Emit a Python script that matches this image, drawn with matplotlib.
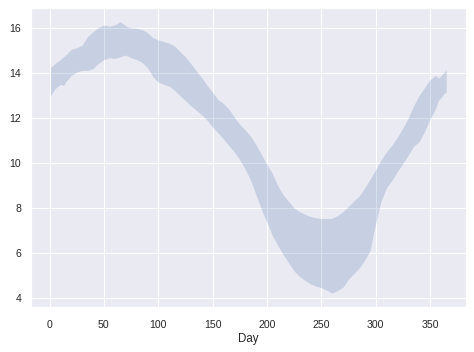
import matplotlib
matplotlib.use('Agg')
import matplotlib.pyplot as plt
import seaborn as sns

# Day of year (sample points)
days = [1, 5, 10, 13, 15, 20, 25, 30, 35, 40, 45, 50, 55, 60, 65, 70, 75, 80,
        85, 90, 95, 100, 105, 110, 115, 120, 125, 130, 135, 140, 145, 150, 155,
        160, 165, 170, 175, 180, 185, 190, 195, 200, 205, 210, 215, 220, 225,
        230, 235, 240, 245, 250, 255, 260, 265, 270, 275, 280, 285, 290, 295,
        298, 300, 305, 310, 315, 320, 325, 330, 335, 340, 345, 350, 355, 358,
        361, 363, 365]

# Upper edge of the band
upper = [14.25, 14.42, 14.6, 14.73, 14.8, 15.05, 15.12, 15.24, 15.62, 15.84,
         16.02, 16.13, 16.08, 16.14, 16.28, 16.1, 16.0, 15.99, 15.93, 15.8,
         15.58, 15.47, 15.4, 15.33, 15.2, 14.95, 14.72, 14.42, 14.1, 13.8,
         13.45, 13.15, 12.83, 12.65, 12.4, 12.05, 11.72, 11.48, 11.2, 10.82,
         10.38, 9.95, 9.55, 9.0, 8.6, 8.3, 8.02, 7.85, 7.74, 7.64, 7.58, 7.54,
         7.54, 7.56, 7.68, 7.85, 8.08, 8.33, 8.55, 8.9, 9.3, 9.54, 9.7, 10.15,
         10.5, 10.8, 11.15, 11.55, 12.0, 12.55, 13.0, 13.35, 13.7, 13.9, 13.78,
         13.92, 14.02, 14.15]

# Lower edge of the band
lower = [13.0, 13.3, 13.5, 13.45, 13.62, 13.9, 14.05, 14.12, 14.12, 14.2,
         14.43, 14.6, 14.68, 14.65, 14.72, 14.8, 14.68, 14.6, 14.48, 14.25,
         13.85, 13.6, 13.5, 13.42, 13.24, 13.0, 12.78, 12.55, 12.35, 12.15,
         11.91, 11.6, 11.35, 11.08, 10.78, 10.5, 10.15, 9.75, 9.25, 8.6, 7.95,
         7.39, 6.8, 6.35, 5.95, 5.58, 5.22, 4.98, 4.8, 4.65, 4.55, 4.48, 4.36,
         4.24, 4.35, 4.5, 4.85, 5.1, 5.35, 5.7, 6.13, 6.87, 7.3, 8.3, 8.9,
         9.24, 9.62, 9.98, 10.35, 10.75, 10.95, 11.4, 11.95, 12.4, 12.8, 12.95,
         13.1, 13.15]

sns.set_theme(style='darkgrid')
plt.rcParams['font.family'] = ['Liberation Sans', 'DejaVu Sans']

fig, ax = plt.subplots(figsize=(474 / 72, 352 / 72), dpi=72)
fig.subplots_adjust(left=0.065, right=0.983, top=0.977, bottom=0.129)

ax.fill_between(days, lower, upper, color='#4c72b0', alpha=0.22, linewidth=0)

ax.set_xticks([0, 50, 100, 150, 200, 250, 300, 350])
ax.set_yticks([4, 6, 8, 10, 12, 14, 16])
ax.tick_params(labelsize=10.5)
ax.tick_params(axis='x', pad=7.5)
ax.set_xlabel('Day', fontsize=11.5, labelpad=3)

plt.savefig('out.png', dpi=72)
